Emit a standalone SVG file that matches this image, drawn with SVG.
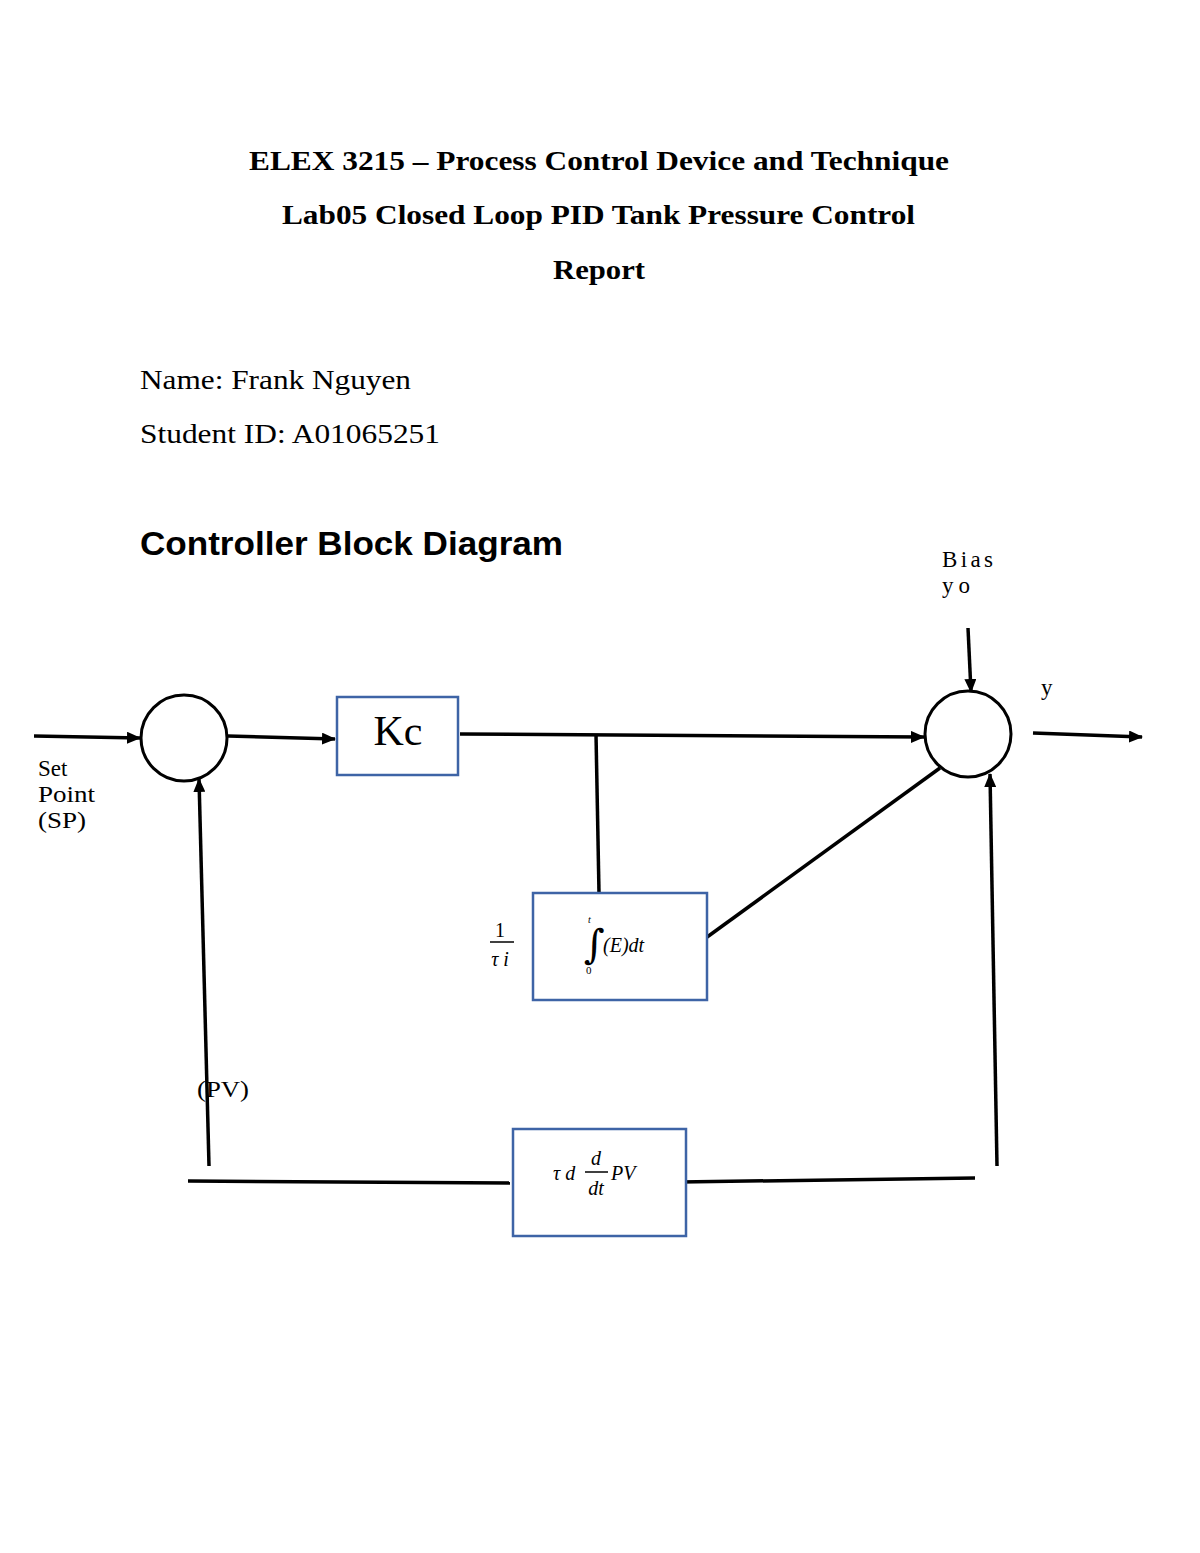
<svg xmlns="http://www.w3.org/2000/svg" width="1200" height="1553" viewBox="0 0 1200 1553">
<style>
.t{font-family:"Liberation Serif",serif;fill:#000}
.b{font-weight:bold;font-size:28px}
.n{font-size:28px}
.s{font-size:23px}
.m{font-family:"Liberation Serif",serif;font-style:italic;font-size:20px;fill:#000}
.up{font-style:normal}
.box{fill:#fff;stroke:#3e64a6;stroke-width:2.5}
.c{fill:#fff;stroke:#000;stroke-width:3}
.l{stroke:#000;stroke-width:3.5;fill:none}
</style>
<defs><marker id="a" markerWidth="14" markerHeight="12" refX="13" refY="6" orient="auto" markerUnits="userSpaceOnUse"><path d="M0,0L14,6L0,12z" fill="#000"/></marker></defs>
<rect width="1200" height="1553" fill="#fff"/>
<g id="header">
<text class="t b" x="249" y="170" textLength="700" lengthAdjust="spacingAndGlyphs">ELEX 3215 – Process Control Device and Technique</text>
<text class="t b" x="282" y="224" textLength="633" lengthAdjust="spacingAndGlyphs">Lab05 Closed Loop PID Tank Pressure Control</text>
<text class="t b" x="553" y="279" textLength="92" lengthAdjust="spacingAndGlyphs">Report</text>
<text class="t n" x="140" y="389" textLength="271" lengthAdjust="spacingAndGlyphs">Name: Frank Nguyen</text>
<text class="t n" x="140" y="443" textLength="300" lengthAdjust="spacingAndGlyphs">Student ID: A01065251</text>
<text x="140" y="555" font-family="Liberation Sans,sans-serif" font-weight="bold" font-size="33" textLength="423" lengthAdjust="spacingAndGlyphs">Controller Block Diagram</text>
</g>
<g id="connectors">
<line class="l" x1="34" y1="736" x2="140" y2="738" marker-end="url(#a)"/>
<line class="l" x1="228" y1="736" x2="335" y2="739" marker-end="url(#a)"/>
<line class="l" x1="460" y1="734" x2="924" y2="737" marker-end="url(#a)"/>
<line class="l" x1="596" y1="734" x2="599" y2="893"/>
<line class="l" x1="703" y1="940" x2="940" y2="768"/>
<line class="l" x1="968" y1="628" x2="971" y2="692" marker-end="url(#a)"/>
<line class="l" x1="1033" y1="733" x2="1142" y2="737" marker-end="url(#a)"/>
<line class="l" x1="188" y1="1181" x2="510" y2="1183"/>
<line class="l" x1="680" y1="1182" x2="975" y2="1178"/>
<line class="l" x1="209" y1="1166" x2="199" y2="779" marker-end="url(#a)"/>
<line class="l" x1="997" y1="1166" x2="990" y2="774" marker-end="url(#a)"/>
</g>
<g id="sum1"><circle class="c" cx="184" cy="738" r="43"/></g>
<g id="sum2"><circle class="c" cx="968" cy="734" r="43"/></g>
<g id="kc"><rect class="box" x="337" y="697" width="121" height="78"/><text class="t" x="398" y="745" font-size="42" text-anchor="middle">Kc</text></g>
<g id="integral"><rect class="box" x="533" y="893" width="174" height="107"/>
<text class="m up" x="584" y="958" style="font-size:40px;font-family:'DejaVu Serif',serif">∫</text>
<text class="m" x="588" y="923" style="font-size:10px">t</text>
<text class="m up" x="586" y="974" style="font-size:11px">0</text>
<text class="m" x="603" y="952">(<tspan>E</tspan>)dt</text>
<text class="m up" x="500" y="937" text-anchor="middle">1</text>
<line x1="490" y1="942" x2="514" y2="942" stroke="#000" stroke-width="1.5"/>
<text class="m" x="500" y="966" text-anchor="middle">τ i</text>
</g>
<g id="deriv"><rect class="box" x="513" y="1129" width="173" height="107"/>
<text class="m" x="553" y="1180">τ d</text>
<text class="m" x="596" y="1165" text-anchor="middle">d</text>
<line x1="585" y1="1172" x2="608" y2="1172" stroke="#000" stroke-width="1.5"/>
<text class="m" x="596" y="1195" text-anchor="middle">dt</text>
<text class="m" x="611" y="1180">PV</text>
</g>
<g id="labels">
<text class="t s" x="38" y="776">Set</text>
<text class="t s" x="38" y="802" textLength="57" lengthAdjust="spacingAndGlyphs">Point</text>
<text class="t s" x="38" y="828" textLength="48" lengthAdjust="spacingAndGlyphs">(SP)</text>
<text class="t s" x="942" y="567" textLength="51" lengthAdjust="spacing">Bias</text>
<text class="t s" x="942" y="593" textLength="28" lengthAdjust="spacing">yo</text>
<text class="t s" x="1041" y="695">y</text>
<text class="t s" x="197" y="1097" textLength="52" lengthAdjust="spacingAndGlyphs">(PV)</text>
</g>
</svg>
